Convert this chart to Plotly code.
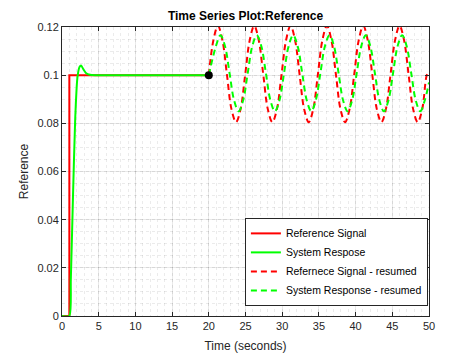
import plotly.graph_objects as go

# ---- data ----
ref_t = [0, 1, 1, 20]
ref_y = [0, 0, 0.1, 0.1]

sys_t = [0, 1, 1.2, 1.5, 1.8, 2.1, 2.4, 2.6, 2.9, 3.3, 3.8, 4.5, 20]
sys_y = [0, 0, 0.015, 0.05, 0.082, 0.099, 0.1035, 0.104, 0.1025, 0.1008, 0.1002, 0.1, 0.1]

res_ref_t = [20, 20.62, 21.24, 21.86, 22.48, 23.09, 23.71, 24.33, 24.95, 25.57,
             26.19, 26.81, 27.43, 28.04, 28.66, 29.28, 29.9, 30.52, 31.14, 31.76,
             32.38, 32.99, 33.61, 34.23, 34.85, 35.47, 36.09, 36.71, 37.33, 37.94,
             38.56, 39.18, 39.8, 40.42, 41.04, 41.66, 42.28, 42.89, 43.51, 44.13,
             44.75, 45.37, 45.99, 46.61, 47.23, 47.84, 48.46, 49.08, 49.7, 50.0]
res_ref_y = [0.1, 0.1144, 0.1205, 0.1144, 0.1, 0.0859, 0.0805, 0.0859,
             0.1, 0.1144, 0.1205, 0.1144, 0.1, 0.0859, 0.0805, 0.0859,
             0.1, 0.1144, 0.1205, 0.1144, 0.1, 0.0859, 0.0805, 0.0859,
             0.1, 0.1144, 0.1205, 0.1144, 0.1, 0.0859, 0.0805, 0.0859,
             0.1, 0.1144, 0.1205, 0.1144, 0.1, 0.0859, 0.0805, 0.0859,
             0.1, 0.1144, 0.1205, 0.1144, 0.1, 0.0859, 0.0805, 0.0859,
             0.1, 0.1015]

res_sys_t = [20, 20.97, 21.59, 22.21, 22.83, 23.44, 24.06, 24.68, 25.3, 25.92,
             26.54, 27.16, 27.78, 28.39, 29.01, 29.63, 30.25, 30.87, 31.49, 32.11,
             32.73, 33.34, 33.96, 34.58, 35.2, 35.82, 36.44, 37.06, 37.68, 38.29,
             38.91, 39.53, 40.15, 40.77, 41.39, 42.01, 42.63, 43.24, 43.86, 44.48,
             45.1, 45.72, 46.34, 46.96, 47.58, 48.19, 48.81, 49.43, 50.0]
res_sys_y = [0.1, 0.112, 0.1166, 0.112, 0.1008, 0.0896, 0.085, 0.0896,
             0.1008, 0.112, 0.1166, 0.112, 0.1008, 0.0896, 0.085, 0.0896,
             0.1008, 0.112, 0.1166, 0.112, 0.1008, 0.0896, 0.085, 0.0896,
             0.1008, 0.112, 0.1166, 0.112, 0.1008, 0.0896, 0.085, 0.0896,
             0.1008, 0.112, 0.1166, 0.112, 0.1008, 0.0896, 0.085, 0.0896,
             0.1008, 0.112, 0.1166, 0.112, 0.1008, 0.0896, 0.085, 0.0896,
             0.097]

pause_t = [20]
pause_y = [0.1]

x_ticks = [0, 5, 10, 15, 20, 25, 30, 35, 40, 45, 50]
y_ticks = [0, 0.02, 0.04, 0.06, 0.08, 0.1, 0.12]
y_tick_text = ["0", "0.02", "0.04", "0.06", "0.08", "0.1", "0.12"]

# ---- figure ----
RED = "#ff0000"
GREEN = "#00ff00"
AX = "#262626"
FONT = "Liberation Sans, Arial, sans-serif"

fig = go.Figure()
fig.add_trace(go.Scatter(x=ref_t, y=ref_y, mode="lines", name="Reference Signal",
                         line=dict(color=RED, width=2)))
fig.add_trace(go.Scatter(x=sys_t, y=sys_y, mode="lines", name="System Respose",
                         line=dict(color=GREEN, width=2, shape="spline", smoothing=0.6)))
fig.add_trace(go.Scatter(x=res_ref_t, y=res_ref_y, mode="lines", name="Refernece Signal - resumed",
                         line=dict(color=RED, width=2, dash="6px,4px", shape="spline")))
fig.add_trace(go.Scatter(x=res_sys_t, y=res_sys_y, mode="lines", name="System Response - resumed",
                         line=dict(color=GREEN, width=2, dash="6px,4px", shape="spline")))
fig.add_trace(go.Scatter(x=pause_t, y=pause_y, mode="markers", showlegend=False,
                         marker=dict(color="black", size=8)))

axis_common = dict(
    showline=True, linecolor=AX, linewidth=1, mirror="ticks",
    ticks="inside", ticklen=4, tickcolor=AX, tickwidth=1,
    showgrid=True, gridcolor="rgba(38,38,38,0.10)", gridwidth=1,
    zeroline=False, automargin=False,
    tickfont=dict(family=FONT, size=11, color=AX),
)

fig.update_xaxes(range=[0, 50], tickvals=x_ticks, ticktext=[str(v) for v in x_ticks],
                 minor=dict(dtick=1, showgrid=True, gridcolor="rgba(38,38,38,0.09)",
                            griddash="dot", ticks=""),
                 title=dict(text="Time (seconds)", font=dict(family=FONT, size=12, color=AX),
                            standoff=10),
                 **axis_common)
fig.update_yaxes(range=[0, 0.12], tickvals=y_ticks, ticktext=y_tick_text,
                 minor=dict(dtick=0.005, showgrid=True, gridcolor="rgba(38,38,38,0.09)",
                            griddash="dot", ticks=""),
                 title=dict(text="Reference", font=dict(family=FONT, size=12, color=AX),
                            standoff=6),
                 **axis_common)

# the page body adds an 8px offset, so the figure is 8px smaller on each axis
fig.update_layout(
    width=466, height=347,
    margin=dict(l=54, r=45, t=19, b=39),
    paper_bgcolor="white", plot_bgcolor="white",
    title=dict(text="<b>Time Series Plot:Reference</b>", x=0.5, xref="paper", xanchor="center",
               y=0.977, yanchor="middle", font=dict(family=FONT, size=12, color="black")),
    legend=dict(x=0.997, y=0.035, xanchor="right", yanchor="bottom",
                bgcolor="white", bordercolor=AX, borderwidth=1,
                font=dict(family=FONT, size=10.5, color="black"),
                tracegroupgap=0, itemwidth=30),
    showlegend=True,
)

fig.write_html("out.html")
